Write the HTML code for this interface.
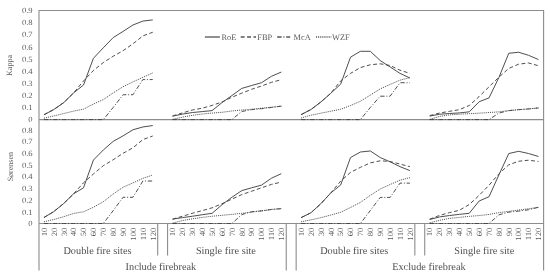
<!DOCTYPE html>
<html><head><meta charset="utf-8"><style>
html,body{margin:0;padding:0;background:#fff;}
svg{display:block;filter:blur(0.3px);}
text{font-family:"Liberation Serif","Times New Roman",serif;text-rendering:geometricPrecision;}
svg{fill:#5c5c5c;}
</style></head><body>
<svg width="550" height="279" viewBox="0 0 550 279">
<rect width="550" height="279" fill="#fff"/>

<g stroke="#8c8c8c" stroke-width="1.1" fill="none">
<path d="M39.00,270.6 V10.45 H543.60 V270.6"/>
<path d="M39.00,119.60 H543.40"/>
<path d="M39.00,223.50 H543.40"/>
<path d="M157.68,223.50 V255.50"/>
<path d="M167.57,223.50 V255.50"/>
<path d="M286.25,223.50 V270.60"/>
<path d="M296.15,223.50 V270.60"/>
<path d="M414.83,223.50 V255.50"/>
<path d="M424.72,223.50 V255.50"/>
</g>
<g font-size="8" text-anchor="end">
<text transform="translate(32.6,122.30) scale(1.07,1)">0</text>
<text transform="translate(32.6,110.17) scale(1.07,1)">0.1</text>
<text transform="translate(32.6,98.04) scale(1.07,1)">0.2</text>
<text transform="translate(32.6,85.91) scale(1.07,1)">0.3</text>
<text transform="translate(32.6,73.78) scale(1.07,1)">0.4</text>
<text transform="translate(32.6,61.65) scale(1.07,1)">0.5</text>
<text transform="translate(32.6,49.52) scale(1.07,1)">0.6</text>
<text transform="translate(32.6,37.39) scale(1.07,1)">0.7</text>
<text transform="translate(32.6,25.26) scale(1.07,1)">0.8</text>
<text transform="translate(32.6,13.13) scale(1.07,1)">0.9</text>
<text transform="translate(32.6,226.20) scale(1.07,1)">0</text>
<text transform="translate(32.6,214.50) scale(1.07,1)">0.1</text>
<text transform="translate(32.6,202.80) scale(1.07,1)">0.2</text>
<text transform="translate(32.6,191.10) scale(1.07,1)">0.3</text>
<text transform="translate(32.6,179.40) scale(1.07,1)">0.4</text>
<text transform="translate(32.6,167.70) scale(1.07,1)">0.5</text>
<text transform="translate(32.6,156.00) scale(1.07,1)">0.6</text>
<text transform="translate(32.6,144.30) scale(1.07,1)">0.7</text>
<text transform="translate(32.6,132.60) scale(1.07,1)">0.8</text>
</g>
<text font-size="8" text-anchor="middle" transform="translate(12.4,65.5) rotate(-90)">Kappa</text>
<text font-size="8" text-anchor="middle" transform="translate(12.6,166.7) rotate(-90)">Sørensen</text>
<g font-size="8" text-anchor="end">
<text transform="translate(46.75,227.8) rotate(-90) scale(1.07,1)">10</text>
<text transform="translate(56.64,227.8) rotate(-90) scale(1.07,1)">20</text>
<text transform="translate(66.53,227.8) rotate(-90) scale(1.07,1)">30</text>
<text transform="translate(76.42,227.8) rotate(-90) scale(1.07,1)">40</text>
<text transform="translate(86.31,227.8) rotate(-90) scale(1.07,1)">50</text>
<text transform="translate(96.20,227.8) rotate(-90) scale(1.07,1)">60</text>
<text transform="translate(106.09,227.8) rotate(-90) scale(1.07,1)">70</text>
<text transform="translate(115.98,227.8) rotate(-90) scale(1.07,1)">80</text>
<text transform="translate(125.87,227.8) rotate(-90) scale(1.07,1)">90</text>
<text transform="translate(135.76,227.8) rotate(-90) scale(1.07,1)">100</text>
<text transform="translate(145.65,227.8) rotate(-90) scale(1.07,1)">110</text>
<text transform="translate(155.54,227.8) rotate(-90) scale(1.07,1)">120</text>
<text transform="translate(175.32,227.8) rotate(-90) scale(1.07,1)">10</text>
<text transform="translate(185.21,227.8) rotate(-90) scale(1.07,1)">20</text>
<text transform="translate(195.10,227.8) rotate(-90) scale(1.07,1)">30</text>
<text transform="translate(204.99,227.8) rotate(-90) scale(1.07,1)">40</text>
<text transform="translate(214.88,227.8) rotate(-90) scale(1.07,1)">50</text>
<text transform="translate(224.77,227.8) rotate(-90) scale(1.07,1)">60</text>
<text transform="translate(234.66,227.8) rotate(-90) scale(1.07,1)">70</text>
<text transform="translate(244.55,227.8) rotate(-90) scale(1.07,1)">80</text>
<text transform="translate(254.44,227.8) rotate(-90) scale(1.07,1)">90</text>
<text transform="translate(264.33,227.8) rotate(-90) scale(1.07,1)">100</text>
<text transform="translate(274.22,227.8) rotate(-90) scale(1.07,1)">110</text>
<text transform="translate(284.11,227.8) rotate(-90) scale(1.07,1)">120</text>
<text transform="translate(303.89,227.8) rotate(-90) scale(1.07,1)">10</text>
<text transform="translate(313.78,227.8) rotate(-90) scale(1.07,1)">20</text>
<text transform="translate(323.67,227.8) rotate(-90) scale(1.07,1)">30</text>
<text transform="translate(333.56,227.8) rotate(-90) scale(1.07,1)">40</text>
<text transform="translate(343.45,227.8) rotate(-90) scale(1.07,1)">50</text>
<text transform="translate(353.34,227.8) rotate(-90) scale(1.07,1)">60</text>
<text transform="translate(363.23,227.8) rotate(-90) scale(1.07,1)">70</text>
<text transform="translate(373.12,227.8) rotate(-90) scale(1.07,1)">80</text>
<text transform="translate(383.01,227.8) rotate(-90) scale(1.07,1)">90</text>
<text transform="translate(392.90,227.8) rotate(-90) scale(1.07,1)">100</text>
<text transform="translate(402.79,227.8) rotate(-90) scale(1.07,1)">110</text>
<text transform="translate(412.68,227.8) rotate(-90) scale(1.07,1)">120</text>
<text transform="translate(432.46,227.8) rotate(-90) scale(1.07,1)">10</text>
<text transform="translate(442.35,227.8) rotate(-90) scale(1.07,1)">20</text>
<text transform="translate(452.24,227.8) rotate(-90) scale(1.07,1)">30</text>
<text transform="translate(462.13,227.8) rotate(-90) scale(1.07,1)">40</text>
<text transform="translate(472.02,227.8) rotate(-90) scale(1.07,1)">50</text>
<text transform="translate(481.91,227.8) rotate(-90) scale(1.07,1)">60</text>
<text transform="translate(491.80,227.8) rotate(-90) scale(1.07,1)">70</text>
<text transform="translate(501.69,227.8) rotate(-90) scale(1.07,1)">80</text>
<text transform="translate(511.58,227.8) rotate(-90) scale(1.07,1)">90</text>
<text transform="translate(521.47,227.8) rotate(-90) scale(1.07,1)">100</text>
<text transform="translate(531.36,227.8) rotate(-90) scale(1.07,1)">110</text>
<text transform="translate(541.25,227.8) rotate(-90) scale(1.07,1)">120</text>
</g>
<g font-size="10.3" text-anchor="middle" fill="#505050">
<text x="97.44" y="253.5">Double fire sites</text>
<text x="225.91" y="253.5">Single fire site</text>
<text x="354.19" y="253.5">Double fire sites</text>
<text x="484.26" y="253.5">Single fire site</text>
<text x="160.9" y="270">Include firebreak</text>
<text x="428.9" y="270">Exclude firebreak</text>
</g>
<polyline fill="none" stroke="#4a4a4a" stroke-width="0.95" stroke-dasharray="1.1 1" stroke-linejoin="round" points="43.95,118.14 53.84,115.96 63.73,113.53 73.62,111.11 83.51,109.17 93.40,104.07 103.29,99.59 113.18,92.91 123.07,86.73 132.96,81.88 142.85,77.39 152.74,72.90"/>
<polyline fill="none" stroke="#454545" stroke-width="0.95" stroke-dasharray="4.4 1.8 1 1.8" stroke-linejoin="round" points="43.95,119.60 53.84,119.60 63.73,119.60 73.62,119.60 83.51,119.60 93.40,119.60 103.29,119.60 113.18,107.47 123.07,94.73 132.96,94.73 142.85,79.57 152.74,79.57"/>
<polyline fill="none" stroke="#454545" stroke-width="0.95" stroke-dasharray="3.9 2.5" stroke-linejoin="round" points="43.95,114.75 53.84,109.53 63.73,102.62 73.62,92.91 83.51,81.03 93.40,70.47 103.29,62.59 113.18,56.28 123.07,50.70 132.96,43.79 142.85,35.90 152.74,32.26"/>
<polyline fill="none" stroke="#454545" stroke-width="0.95" stroke-linejoin="round" points="43.95,114.75 53.84,109.53 63.73,102.62 73.62,92.91 83.51,85.03 93.40,58.34 103.29,47.79 113.18,37.60 123.07,31.41 132.96,24.99 142.85,21.10 152.74,19.89"/>
<polyline fill="none" stroke="#4a4a4a" stroke-width="0.95" stroke-dasharray="1.1 1" stroke-linejoin="round" points="172.52,119.36 182.41,117.17 192.30,115.35 202.19,114.02 212.08,113.05 221.97,112.32 231.86,110.99 241.75,110.02 251.64,109.29 261.53,108.20 271.42,107.23 281.31,106.14"/>
<polyline fill="none" stroke="#454545" stroke-width="0.95" stroke-dasharray="4.4 1.8 1 1.8" stroke-linejoin="round" points="172.52,119.60 182.41,119.60 192.30,119.60 202.19,119.60 212.08,119.60 221.97,119.60 231.86,119.60 241.75,111.47 251.64,109.65 261.53,108.68 271.42,107.47 281.31,106.14"/>
<polyline fill="none" stroke="#454545" stroke-width="0.95" stroke-dasharray="3.9 2.5" stroke-linejoin="round" points="172.52,115.96 182.41,112.93 192.30,110.02 202.19,108.20 212.08,105.41 221.97,102.01 231.86,97.28 241.75,93.16 251.64,89.27 261.53,86.00 271.42,82.36 281.31,79.69"/>
<polyline fill="none" stroke="#454545" stroke-width="0.95" stroke-linejoin="round" points="172.52,116.20 182.41,114.14 192.30,112.56 202.19,111.59 212.08,110.62 221.97,102.62 231.86,95.58 241.75,88.43 251.64,85.51 261.53,82.72 271.42,76.30 281.31,72.05"/>
<polyline fill="none" stroke="#4a4a4a" stroke-width="0.95" stroke-dasharray="1.1 1" stroke-linejoin="round" points="301.09,118.02 310.98,115.23 320.87,113.17 330.76,111.23 340.65,109.29 350.54,105.53 360.43,101.28 370.32,95.10 380.21,88.91 390.10,84.42 399.99,80.18 409.88,77.63"/>
<polyline fill="none" stroke="#454545" stroke-width="0.95" stroke-dasharray="4.4 1.8 1 1.8" stroke-linejoin="round" points="301.09,119.60 310.98,119.60 320.87,119.60 330.76,119.60 340.65,119.60 350.54,119.60 360.43,119.60 370.32,107.47 380.21,96.19 390.10,96.19 399.99,82.72 409.88,82.72"/>
<polyline fill="none" stroke="#454545" stroke-width="0.95" stroke-dasharray="3.9 2.5" stroke-linejoin="round" points="301.09,114.63 310.98,109.53 320.87,102.01 330.76,93.28 340.65,80.91 350.54,73.38 360.43,67.56 370.32,64.77 380.21,63.80 390.10,65.50 399.99,70.23 409.88,73.38"/>
<polyline fill="none" stroke="#454545" stroke-width="0.95" stroke-linejoin="round" points="301.09,114.63 310.98,109.53 320.87,102.01 330.76,93.28 340.65,84.18 350.54,57.13 360.43,51.31 370.32,51.31 380.21,60.53 390.10,66.96 399.99,73.38 409.88,77.99"/>
<polyline fill="none" stroke="#4a4a4a" stroke-width="0.95" stroke-dasharray="1.1 1" stroke-linejoin="round" points="429.66,119.36 439.55,116.45 449.44,114.87 459.33,114.26 469.22,113.66 479.11,113.17 489.00,112.56 498.89,111.84 508.78,110.62 518.67,109.65 528.56,108.93 538.45,107.96"/>
<polyline fill="none" stroke="#454545" stroke-width="0.95" stroke-dasharray="4.4 1.8 1 1.8" stroke-linejoin="round" points="429.66,119.60 439.55,119.60 449.44,119.60 459.33,119.60 469.22,119.60 479.11,119.60 489.00,119.60 498.89,113.05 508.78,110.62 518.67,109.65 528.56,108.93 538.45,107.96"/>
<polyline fill="none" stroke="#454545" stroke-width="0.95" stroke-dasharray="3.9 2.5" stroke-linejoin="round" points="429.66,115.60 439.55,113.05 449.44,111.35 459.33,109.65 469.22,105.53 479.11,96.55 489.00,86.85 498.89,77.14 508.78,68.41 518.67,64.17 528.56,62.95 538.45,65.74"/>
<polyline fill="none" stroke="#454545" stroke-width="0.95" stroke-linejoin="round" points="429.66,116.08 439.55,114.26 449.44,113.53 459.33,112.93 469.22,111.84 479.11,101.77 489.00,97.89 498.89,77.51 508.78,53.25 518.67,52.28 528.56,55.31 538.45,59.56"/>
<polyline fill="none" stroke="#4a4a4a" stroke-width="0.95" stroke-dasharray="1.1 1" stroke-linejoin="round" points="43.95,221.75 53.84,219.52 63.73,216.71 73.62,213.44 83.51,211.80 93.40,207.24 103.29,201.74 113.18,194.02 123.07,187.23 132.96,182.90 142.85,178.34 152.74,175.06"/>
<polyline fill="none" stroke="#454545" stroke-width="0.95" stroke-dasharray="4.4 1.8 1 1.8" stroke-linejoin="round" points="43.95,223.50 53.84,223.50 63.73,223.50 73.62,223.50 83.51,223.50 93.40,223.50 103.29,223.50 113.18,210.63 123.07,197.29 132.96,197.29 142.85,181.03 152.74,181.03"/>
<polyline fill="none" stroke="#454545" stroke-width="0.95" stroke-dasharray="3.9 2.5" stroke-linejoin="round" points="43.95,217.53 53.84,211.57 63.73,203.49 73.62,193.78 83.51,182.78 93.40,174.01 103.29,165.70 113.18,159.73 123.07,153.30 132.96,147.80 142.85,139.61 152.74,135.98"/>
<polyline fill="none" stroke="#454545" stroke-width="0.95" stroke-linejoin="round" points="43.95,217.53 53.84,211.57 63.73,203.49 73.62,193.78 83.51,187.81 93.40,160.09 103.29,150.02 113.18,141.37 123.07,135.87 132.96,129.78 142.85,126.98 152.74,125.57"/>
<polyline fill="none" stroke="#4a4a4a" stroke-width="0.95" stroke-dasharray="1.1 1" stroke-linejoin="round" points="172.52,223.15 182.41,220.57 192.30,218.82 202.19,217.42 212.08,216.25 221.97,215.31 231.86,214.37 241.75,213.32 251.64,212.15 261.53,210.86 271.42,209.46 281.31,208.64"/>
<polyline fill="none" stroke="#454545" stroke-width="0.95" stroke-dasharray="4.4 1.8 1 1.8" stroke-linejoin="round" points="172.52,223.50 182.41,223.50 192.30,223.50 202.19,223.50 212.08,223.50 221.97,223.50 231.86,223.50 241.75,214.61 251.64,211.68 261.53,210.86 271.42,209.46 281.31,208.64"/>
<polyline fill="none" stroke="#454545" stroke-width="0.95" stroke-dasharray="3.9 2.5" stroke-linejoin="round" points="172.52,219.17 182.41,216.25 192.30,213.32 202.19,210.63 212.08,207.82 221.97,203.73 231.86,199.16 241.75,194.60 251.64,191.21 261.53,187.81 271.42,184.42 281.31,182.08"/>
<polyline fill="none" stroke="#454545" stroke-width="0.95" stroke-linejoin="round" points="172.52,219.17 182.41,217.65 192.30,216.25 202.19,214.72 212.08,213.32 221.97,204.78 231.86,197.29 241.75,190.62 251.64,187.81 261.53,185.12 271.42,178.22 281.31,173.66"/>
<polyline fill="none" stroke="#4a4a4a" stroke-width="0.95" stroke-dasharray="1.1 1" stroke-linejoin="round" points="301.09,221.75 310.98,219.87 320.87,217.65 330.76,215.08 340.65,212.27 350.54,207.47 360.43,202.44 370.32,195.42 380.21,188.99 390.10,184.54 399.99,180.21 409.88,177.64"/>
<polyline fill="none" stroke="#454545" stroke-width="0.95" stroke-dasharray="4.4 1.8 1 1.8" stroke-linejoin="round" points="301.09,223.50 310.98,223.50 320.87,223.50 330.76,223.50 340.65,223.50 350.54,223.50 360.43,223.50 370.32,210.51 380.21,197.41 390.10,197.41 399.99,183.13 409.88,183.13"/>
<polyline fill="none" stroke="#454545" stroke-width="0.95" stroke-dasharray="3.9 2.5" stroke-linejoin="round" points="301.09,217.65 310.98,212.74 320.87,203.73 330.76,192.96 340.65,181.15 350.54,172.37 360.43,167.34 370.32,162.89 380.21,160.79 390.10,161.49 399.99,164.06 409.88,166.64"/>
<polyline fill="none" stroke="#454545" stroke-width="0.95" stroke-linejoin="round" points="301.09,217.65 310.98,212.74 320.87,203.73 330.76,192.96 340.65,185.01 350.54,157.51 360.43,152.01 370.32,150.96 380.21,157.51 390.10,161.84 399.99,166.64 409.88,170.62"/>
<polyline fill="none" stroke="#4a4a4a" stroke-width="0.95" stroke-dasharray="1.1 1" stroke-linejoin="round" points="429.66,222.80 439.55,220.34 449.44,218.35 459.33,217.42 469.22,216.36 479.11,215.54 489.00,214.49 498.89,212.62 508.78,211.33 518.67,210.04 528.56,208.76 538.45,207.35"/>
<polyline fill="none" stroke="#454545" stroke-width="0.95" stroke-dasharray="4.4 1.8 1 1.8" stroke-linejoin="round" points="429.66,223.50 439.55,223.50 449.44,223.50 459.33,223.50 469.22,223.50 479.11,223.50 489.00,223.50 498.89,214.84 508.78,212.15 518.67,211.10 528.56,209.81 538.45,207.24"/>
<polyline fill="none" stroke="#454545" stroke-width="0.95" stroke-dasharray="3.9 2.5" stroke-linejoin="round" points="429.66,219.17 439.55,215.43 449.44,212.62 459.33,210.28 469.22,204.55 479.11,195.42 489.00,185.24 498.89,173.78 508.78,164.77 518.67,161.26 528.56,160.20 538.45,161.49"/>
<polyline fill="none" stroke="#454545" stroke-width="0.95" stroke-linejoin="round" points="429.66,219.52 439.55,216.95 449.44,215.54 459.33,214.37 469.22,213.32 479.11,201.04 489.00,196.71 498.89,174.94 508.78,153.53 518.67,151.31 528.56,153.53 538.45,156.46"/>
<g fill="none">
<path d="M204.9,37.0 H219.9" stroke="#555" stroke-width="1.3"/>
<path d="M240.7,37.0 H256" stroke="#555" stroke-width="1.3" stroke-dasharray="3.9 2.5"/>
<path d="M277.2,37.0 H290.2" stroke="#555" stroke-width="1.3" stroke-dasharray="4.4 1.8 1 1.8"/>
<path d="M316,37.0 H331.3" stroke="#555" stroke-width="1.3" stroke-dasharray="1.1 1"/>
</g>
<g font-size="8.4">
<text x="221.4" y="39.6">RoE</text>
<text x="257.3" y="39.6">FBP</text>
<text x="293.6" y="39.6">McA</text>
<text x="332.1" y="39.6">WZF</text>
</g>
</svg>
</body></html>
